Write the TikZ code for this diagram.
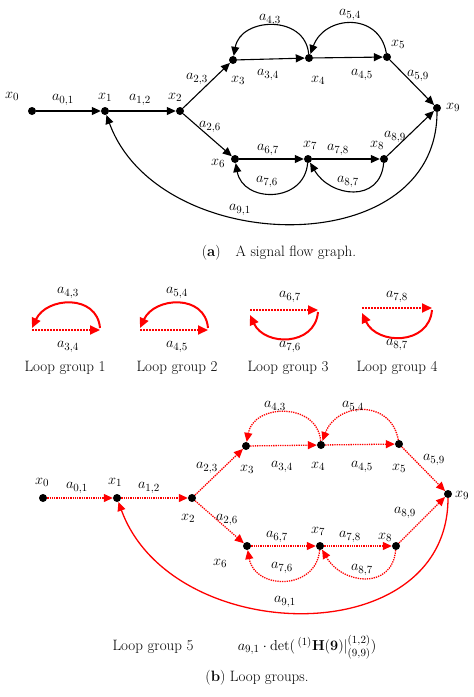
\documentclass[tikz,border=0pt]{standalone}
\usepackage{amsmath}
\usetikzlibrary{arrows.meta}

\begin{document}
\begin{tikzpicture}[x=1pt, y=1pt,
    vtx/.style={circle, fill=black, inner sep=0pt, minimum size=8pt},
    lab/.style={font=\fontsize{15.5}{17}\selectfont, inner sep=1pt},
    captxt/.style={font=\fontsize{15}{17}\selectfont, inner sep=1pt},
    flow/.style={line width=1.1pt, -{Triangle[length=9pt,width=8pt]}},
    rflow/.style={red, line width=1.3pt, densely dotted, -{Triangle[length=9pt,width=8pt]}},
    rloop/.style={red, line width=1.3pt, -{Triangle[length=9pt,width=8pt]}},
    gflow/.style={red, line width=2pt, densely dotted, -{Triangle[length=10pt,width=9pt]}},
    gloop/.style={red, line width=2pt, -{Triangle[length=10pt,width=9pt]}}]
    \fill [white] (0,0) rectangle (474,-697);
    \useasboundingbox (0,0) rectangle (474,-697);

    % (a) signal flow graph: nodes
    \node [vtx] (x0) at (32,-111) {};
    \node [vtx] (x1) at (105,-111) {};
    \node [vtx] (x2) at (180,-111) {};
    \node [vtx] (x3) at (233,-60) {};
    \node [vtx] (x4) at (309,-58) {};
    \node [vtx] (x5) at (387,-57) {};
    \node [vtx] (x6) at (235,-159) {};
    \node [vtx] (x7) at (308,-159) {};
    \node [vtx] (x8) at (384,-159) {};
    \node [vtx] (x9) at (437,-108) {};

    \node [lab] (tx0) at (12,-96) {$x_0$};
    \node [lab] (tx1) at (105,-97) {$x_1$};
    \node [lab] (tx2) at (175,-97) {$x_2$};
    \node [lab] (tx3) at (238,-80) {$x_3$};
    \node [lab] (tx4) at (318,-80) {$x_4$};
    \node [lab] (tx5) at (398,-44) {$x_5$};
    \node [lab] (tx6) at (218,-163) {$x_6$};
    \node [lab] (tx7) at (310,-145) {$x_7$};
    \node [lab] (tx8) at (377,-145) {$x_8$};
    \node [lab] (tx9) at (453,-107) {$x_9$};

    % (a) edges
    \draw [flow] (x0) -- (x1);
    \draw [flow] (x1) -- (x2);
    \draw [flow] (x2) -- (x3);
    \draw [flow] (x3) -- (x4);
    \draw [flow] (x4) -- (x5);
    \draw [flow] (x5) -- (x9);
    \draw [flow] (x2) -- (x6);
    \draw [flow] (x6) -- (x7);
    \draw [flow] (x7) -- (x8);
    \draw [flow] (x8) -- (x9);
    \draw [flow] (x4) to [out=95, in=80, looseness=1.35] (x3);
    \draw [flow] (x5) to [out=100, in=70, looseness=1.4] (x4);
    \draw [flow] (x7) to [out=-95, in=-80, looseness=1.45] (x6);
    \draw [flow] (x8) to [out=-95, in=-60, looseness=1.4] (x7);
    \draw [flow] (x9) to [out=-90, in=-70, looseness=1.17] (x1);

    \node [lab] (a01) at (63,-100) {$a_{0,1}$};
    \node [lab] (a12) at (140,-100) {$a_{1,2}$};
    \node [lab] (a23) at (197,-79) {$a_{2,3}$};
    \node [lab] (a34) at (268,-75) {$a_{3,4}$};
    \node [lab] (a45) at (362,-75) {$a_{4,5}$};
    \node [lab] (a59) at (418,-76) {$a_{5,9}$};
    \node [lab] (a26) at (210,-127) {$a_{2,6}$};
    \node [lab] (a67) at (268,-150) {$a_{6,7}$};
    \node [lab] (a78) at (338,-150) {$a_{7,8}$};
    \node [lab] (a89) at (395,-137) {$a_{8,9}$};
    \node [lab] (a76) at (267,-182) {$a_{7,6}$};
    \node [lab] (a87) at (348,-182) {$a_{8,7}$};
    \node [lab] (a43) at (270,-20) {$a_{4,3}$};
    \node [lab] (a54) at (350,-15) {$a_{5,4}$};
    \node [lab] (a91) at (240,-210) {$a_{9,1}$};

    \node [captxt] (capa) at (279,-253) {(\textbf{a})\quad A signal flow graph.};

    % loop groups 1-4
    \coordinate (g1l) at (32,-330);  \coordinate (g1r) at (100,-330);
    \coordinate (g2l) at (140,-330); \coordinate (g2r) at (208,-330);
    \coordinate (g3l) at (250,-310); \coordinate (g3r) at (318,-310);
    \coordinate (g4l) at (362,-308); \coordinate (g4r) at (432,-308);

    \draw [gflow] (g1l) -- (g1r);
    \draw [gloop] ([yshift=2pt]g1r) to [out=95, in=65, looseness=1.3] ([yshift=2pt]g1l);
    \draw [gflow] (g2l) -- (g2r);
    \draw [gloop] ([yshift=2pt]g2r) to [out=95, in=65, looseness=1.3] ([yshift=2pt]g2l);
    \draw [gflow] (g3l) -- (g3r);
    \draw [gloop] ([yshift=-2pt]g3r) to [out=-95, in=-65, looseness=1.3] ([yshift=-5pt]g3l);
    \draw [gflow] (g4l) -- (g4r);
    \draw [gloop] ([yshift=-2pt]g4r) to [out=-95, in=-65, looseness=1.3] ([yshift=-5pt]g4l);

    \node [lab] (l43) at (68,-293) {$a_{4,3}$};
    \node [lab] (l34) at (68,-347) {$a_{3,4}$};
    \node [lab] (l54) at (177,-293) {$a_{5,4}$};
    \node [lab] (l45) at (177,-347) {$a_{4,5}$};
    \node [lab] (l67) at (290,-297) {$a_{6,7}$};
    \node [lab] (l76) at (290,-347) {$a_{7,6}$};
    \node [lab] (l78) at (397,-297) {$a_{7,8}$};
    \node [lab] (l87) at (397,-345) {$a_{8,7}$};
    \node [captxt] (lg1) at (65,-368) {Loop group 1};
    \node [captxt] (lg2) at (177,-368) {Loop group 2};
    \node [captxt] (lg3) at (288,-368) {Loop group 3};
    \node [captxt] (lg4) at (397,-368) {Loop group 4};

    % (b) loop group 5: nodes
    \node [vtx] (y0) at (43,-498) {};
    \node [vtx] (y1) at (117,-498) {};
    \node [vtx] (y2) at (192,-498) {};
    \node [vtx] (y3) at (246,-446) {};
    \node [vtx] (y4) at (321,-445) {};
    \node [vtx] (y5) at (399,-444) {};
    \node [vtx] (y6) at (247,-546) {};
    \node [vtx] (y7) at (320,-546) {};
    \node [vtx] (y8) at (396,-546) {};
    \node [vtx] (y9) at (448,-494) {};

    \node [lab] (ty0) at (42,-482) {$x_0$};
    \node [lab] (ty1) at (115,-482) {$x_1$};
    \node [lab] (ty2) at (188,-518) {$x_2$};
    \node [lab] (ty3) at (247,-469) {$x_3$};
    \node [lab] (ty4) at (318,-466) {$x_4$};
    \node [lab] (ty5) at (399,-468) {$x_5$};
    \node [lab] (ty6) at (220,-563) {$x_6$};
    \node [lab] (ty7) at (318,-531) {$x_7$};
    \node [lab] (ty8) at (385,-537) {$x_8$};
    \node [lab] (ty9) at (462,-495) {$x_9$};

    % (b) edges
    \draw [rflow] (y0) -- (y1);
    \draw [rflow] (y1) -- (y2);
    \draw [rflow] (y2) -- (y3);
    \draw [rflow] (y3) -- (y4);
    \draw [rflow] (y4) -- (y5);
    \draw [rflow] (y5) -- (y9);
    \draw [rflow] (y2) -- (y6);
    \draw [rflow] (y6) -- (y7);
    \draw [rflow] (y7) -- (y8);
    \draw [rflow] (y8) -- (y9);
    \draw [rflow] (y4) to [out=95, in=80, looseness=1.35] (y3);
    \draw [rflow] (y5) to [out=100, in=70, looseness=1.4] (y4);
    \draw [rflow] (y7) to [out=-95, in=-80, looseness=1.45] (y6);
    \draw [rflow] (y8) to [out=-95, in=-60, looseness=1.4] (y7);
    \draw [rloop] (y9) to [out=-90, in=-70, looseness=1.2] (y1);

    \node [lab] (b01) at (77,-488) {$a_{0,1}$};
    \node [lab] (b12) at (149,-488) {$a_{1,2}$};
    \node [lab] (b23) at (207,-468) {$a_{2,3}$};
    \node [lab] (b34) at (282,-467) {$a_{3,4}$};
    \node [lab] (b45) at (362,-467) {$a_{4,5}$};
    \node [lab] (b59) at (434,-460) {$a_{5,9}$};
    \node [lab] (b26) at (227,-520) {$a_{2,6}$};
    \node [lab] (b67) at (277,-537) {$a_{6,7}$};
    \node [lab] (b78) at (350,-537) {$a_{7,8}$};
    \node [lab] (b89) at (405,-513) {$a_{8,9}$};
    \node [lab] (b76) at (282,-568) {$a_{7,6}$};
    \node [lab] (b87) at (362,-570) {$a_{8,7}$};
    \node [lab] (b43) at (275,-407) {$a_{4,3}$};
    \node [lab] (b54) at (353,-407) {$a_{5,4}$};
    \node [lab] (b91) at (285,-602) {$a_{9,1}$};

    \node [captxt] (lg5) at (153,-647) {Loop group 5};
    \node [captxt] (det) at (307,-647) {$a_{9,1}\cdot\det(\,{}^{(1)}\mathbf{H}(\mathbf{9})|^{(1,2)}_{(9,9)})$};
    \node [captxt] (capb) at (257,-678) {(\textbf{b}) Loop groups.};
\end{tikzpicture}
\end{document}
